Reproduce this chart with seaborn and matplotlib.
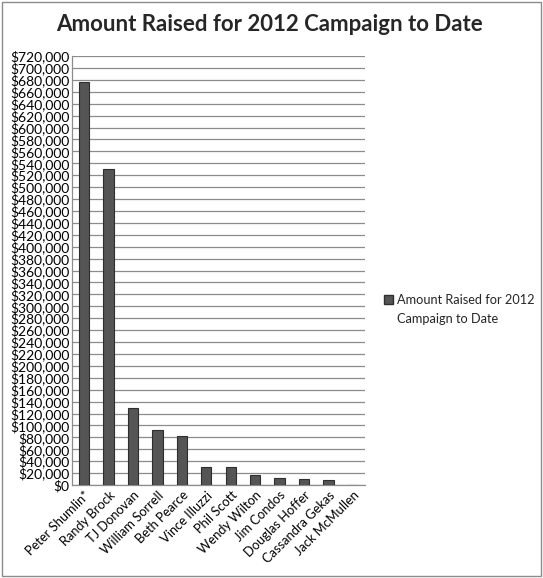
import pandas as pd
import seaborn as sns
import matplotlib.pyplot as plt
from matplotlib.patches import Rectangle, Patch
from matplotlib.ticker import FuncFormatter, MultipleLocator

candidates = ["Peter Shumlin*", "Randy Brock", "TJ Donovan", "William Sorrell",
              "Beth Pearce", "Vince Illuzzi", "Phil Scott", "Wendy Wilton",
              "Jim Condos", "Douglas Hoffer", "Cassandra Gekas", "Jack McMullen"]
amounts = [676000, 530000, 130000, 93000, 83000, 31000, 31000, 16000,
           11000, 10000, 8000, 0]
series_lines = ["Amount Raised for 2012", "Campaign to Date"]

df = pd.DataFrame({"Candidate": candidates, "Amount": amounts})

sns.set_theme(style="white")
plt.rcParams["font.family"] = ["Lato", "DejaVu Sans"]

fig = plt.figure(figsize=(5.43, 5.78), dpi=100)
ax = fig.add_axes([0.1326, 0.1609, 0.5396, 0.7422])

sns.barplot(data=df, x="Candidate", y="Amount", color="#555555", width=0.42,
            edgecolor="#2e2e2e", linewidth=0.8, saturation=1, ax=ax, zorder=3)

ax.set_ylim(0, 720000)
ax.set_xlim(-0.5, len(candidates) - 0.5)
ax.yaxis.set_major_locator(MultipleLocator(20000))
ax.yaxis.set_major_formatter(FuncFormatter(lambda v, p: f"${v:,.0f}"))
ax.grid(axis="y", color="#8c8c8c", linewidth=0.9, zorder=0)
ax.set_axisbelow(True)

for side in ["top", "right"]:
    ax.spines[side].set_visible(False)
for side in ["left", "bottom"]:
    ax.spines[side].set_color("#8c8c8c")
    ax.spines[side].set_linewidth(0.9)

ax.tick_params(axis="y", labelsize=10, pad=2, length=0, colors="black")
ax.tick_params(axis="x", labelsize=9.3, pad=3, length=0, colors="black")
plt.setp(ax.get_xticklabels(), rotation=45, ha="right", rotation_mode="anchor")
ax.set_xlabel("")
ax.set_ylabel("")

fig.text(0.497, 0.958, "Amount Raised for 2012 Campaign to Date",
         ha="center", va="center", fontsize=16, fontweight="bold")

handles = [Patch(facecolor="#555555", edgecolor="#2e2e2e"),
           Patch(facecolor="none", edgecolor="none")]
fig.legend(handles, series_lines, loc="center left",
           bbox_to_anchor=(0.686, 0.465), frameon=False, fontsize=9.2,
           handlelength=0.7, handleheight=0.7, handletextpad=0.35,
           labelspacing=0.55)

fig.patches.append(Rectangle((0.004, 0.004), 0.992, 0.992, transform=fig.transFigure,
                             fill=False, edgecolor="#8c8c8c", linewidth=1))

fig.savefig("out.png", dpi=100)
